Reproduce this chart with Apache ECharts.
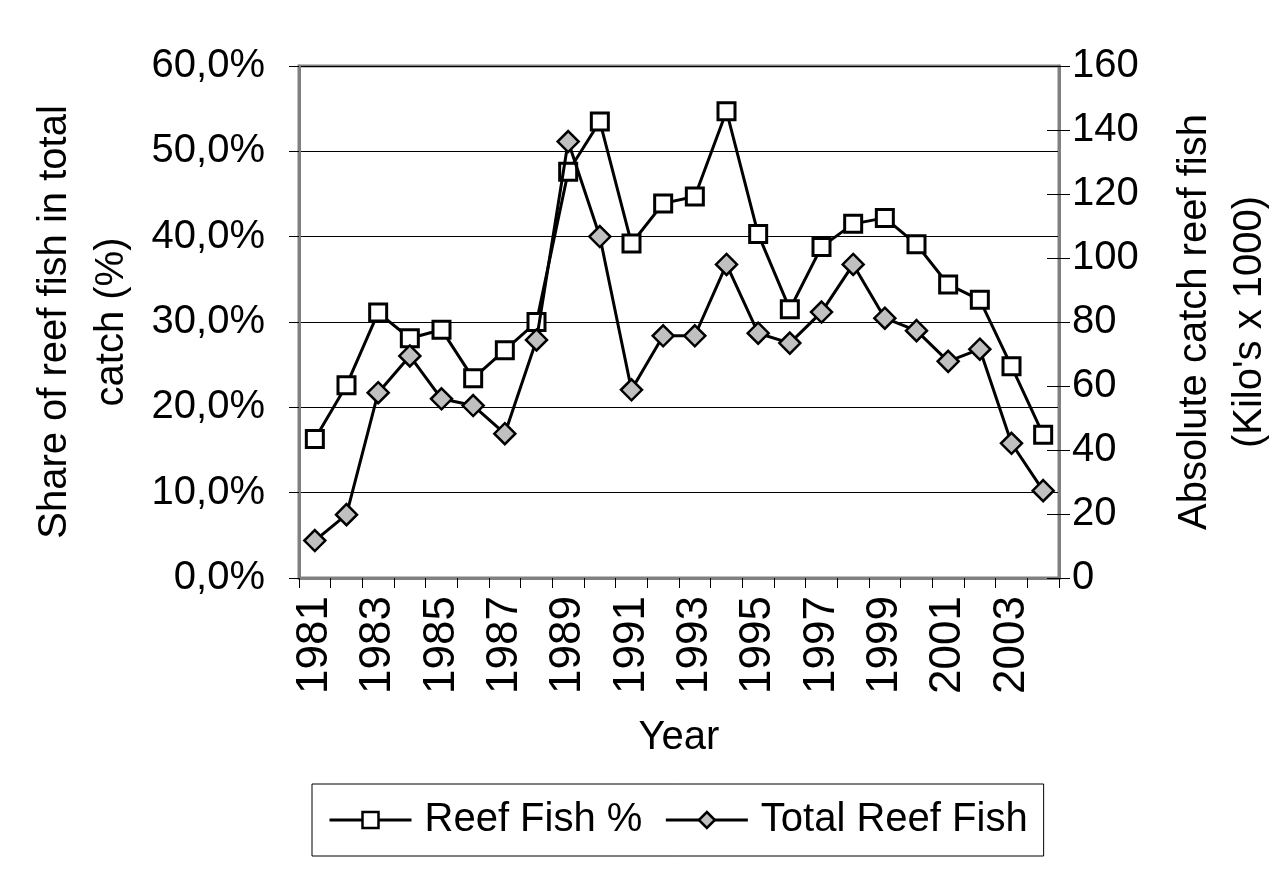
<!DOCTYPE html>
<html><head><meta charset="utf-8">
<script src="https://cdn.jsdelivr.net/npm/echarts@6/dist/echarts.min.js"></script>
<style>html,body{margin:0;padding:0;background:#fff}#c{width:1288px;height:876px}</style>
</head><body><div id="c"></div>
<script>
const years = ['1981','1982','1983','1984','1985','1986','1987','1988','1989','1990','1991','1992','1993','1994','1995','1996','1997','1998','1999','2000','2001','2002','2003','2004'];
const reefFishPct = [16.3,22.6,31.1,28.1,29.1,23.4,26.7,30.0,47.6,53.5,39.2,43.9,44.7,54.7,40.3,31.5,38.8,41.5,42.2,39.1,34.4,32.6,24.8,16.8];
const totalReefFish = [11.7,19.8,57.9,69.4,56.0,53.9,45.1,74.4,136.4,106.7,58.8,75.7,75.7,98.0,76.5,73.4,83.1,98.0,81.2,77.3,67.7,71.5,42.1,27.3];
const seriesNames = ['Reef Fish %','Total Reef Fish'];
const leftTitle = 'Share of reef fish in total\ncatch (%)';
const rightTitle = "Absolute catch reef fish\n(Kilo's x 1000)";
const xTitle = 'Year';

const FONT = '"Liberation Sans", Arial, sans-serif';
const FS = 40;
const chart = echarts.init(document.getElementById('c'), null, {renderer:'canvas'});
chart.setOption({
  animation:false,
  backgroundColor:'#fff',
  textStyle:{fontFamily:FONT, color:'#000'},
  grid:{left:299, right:229, top:66, bottom:298, show:true, borderColor:'#808080', borderWidth:3, backgroundColor:'#fff'},
  legend:{
    left:312, top:784, orient:'horizontal', padding:[16,16], itemGap:22,
    itemWidth:82, itemHeight:20, borderColor:'#000', borderWidth:1,
    lineStyle:{width:3, color:'#000'},
    itemStyle:{borderWidth:2.5, borderColor:'#000'},
    textStyle:{fontSize:FS, color:'#000', fontFamily:FONT, lineHeight:40, padding:[0,0,0,8]},
    data:seriesNames
  },
  xAxis:{
    type:'category', data:years, boundaryGap:true,
    axisLine:{show:true, lineStyle:{color:'#808080', width:3}},
    axisTick:{show:true, interval:0, length:10, lineStyle:{color:'#000', width:1}},
    axisLabel:{interval:1, rotate:90, margin:18, fontSize:44, color:'#000', fontFamily:FONT},
    splitLine:{show:false},
    name:xTitle, nameLocation:'middle', nameGap:140,
    nameTextStyle:{fontSize:FS, color:'#000', fontFamily:FONT, lineHeight:40}
  },
  yAxis:[
    {
      type:'value', position:'left', min:0, max:60, interval:10,
      axisLine:{show:true, lineStyle:{color:'#808080', width:3}},
      axisTick:{show:true, length:10, lineStyle:{color:'#000', width:1}},
      axisLabel:{margin:34, fontSize:FS, color:'#000', fontFamily:FONT,
        formatter:v => v.toFixed(1).replace('.', ',') + '%'},
      splitLine:{show:true, lineStyle:{color:'#000', width:1}},
      name:leftTitle, nameLocation:'middle', nameGap:157,
      nameTextStyle:{fontSize:FS, color:'#000', fontFamily:FONT, lineHeight:57}
    },
    {
      type:'value', position:'right', min:0, max:160, interval:20,
      axisLine:{show:true, lineStyle:{color:'#808080', width:3}},
      axisTick:{show:true, length:11, lineStyle:{color:'#000', width:1}},
      axisLabel:{margin:13, fontSize:FS, color:'#000', fontFamily:FONT},
      splitLine:{show:false},
      name:rightTitle, nameLocation:'middle', nameGap:108,
      nameTextStyle:{fontSize:FS, color:'#000', fontFamily:FONT, lineHeight:55}
    },
    {
      type:'value', position:'right', min:0, max:160, interval:20,
      axisLine:{show:false},
      axisTick:{show:true, inside:true, length:12, lineStyle:{color:'#000', width:1}},
      axisLabel:{show:false},
      splitLine:{show:false}
    }
  ],
  series:[
    {
      name:seriesNames[0], type:'line', yAxisIndex:0, data:reefFishPct,
      symbol:'rect', symbolSize:17, z:2,
      itemStyle:{color:'#fff', borderColor:'#000', borderWidth:3},
      lineStyle:{color:'#000', width:3},
      emphasis:{disabled:true}
    },
    {
      name:seriesNames[1], type:'line', yAxisIndex:1, data:totalReefFish,
      symbol:'diamond', symbolSize:21, z:3,
      itemStyle:{color:'#c0c0c0', borderColor:'#000', borderWidth:2.5},
      lineStyle:{color:'#000', width:3},
      emphasis:{disabled:true}
    }
  ]
});
</script>
</body></html>
